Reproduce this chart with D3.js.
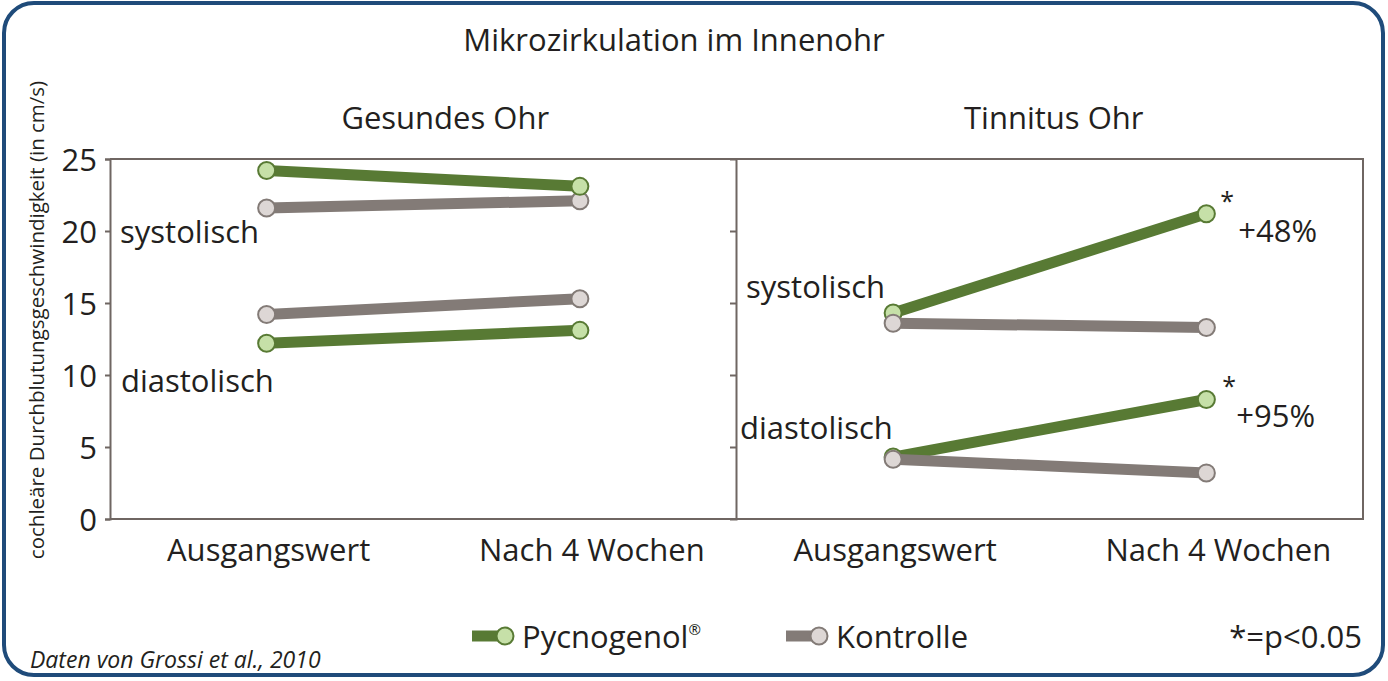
<!DOCTYPE html>
<html>
<head>
<meta charset="utf-8">
<script src="https://cdn.jsdelivr.net/npm/d3@7"></script>
<style>
  body { margin: 0; background: #fff; }
  svg text { font-family: "Open Sans", "Noto Sans", sans-serif; fill: #231f20; }
</style>
</head>
<body>
<svg id="chart" width="1388" height="681"></svg>
<script>
// values (cm/s)
var timepoints = ["Ausgangswert", "Nach 4 Wochen"];
var panels = ["Gesundes Ohr", "Tinnitus Ohr"];
var yTicks = [0, 5, 10, 15, 20, 25];

// [gesund, tinnitus], each [Ausgangswert, Nach 4 Wochen]
var pycnoSystolisch = [[24.2, 23.1], [14.3, 21.2]];
var pycnoDiastolisch = [[12.2, 13.1], [4.3, 8.3]];
var kontrolleSystolisch = [[21.6, 22.1], [13.6, 13.3]];
var kontrolleDiastolisch = [[14.2, 15.3], [4.15, 3.2]];
var changeLabels = ["+48%", "+95%"];

var green = "#587a34", greenFill = "#c6e0a8";
var grey = "#837b77", greyFill = "#ddd7d5";
var axisColor = "#6f6662";
var fs = "31px";

var svg = d3.select("#chart");

// rounded frame
svg.append("rect")
  .attr("x", 4).attr("y", 3)
  .attr("width", 1379).attr("height", 672)
  .attr("rx", 30).attr("ry", 30)
  .attr("fill", "none")
  .attr("stroke", "#1f4b7a")
  .attr("stroke-width", 4);

var plotL = 110, plotR = 1363, plotT = 159, plotB = 519;
var mid = 736;

var y = d3.scaleLinear().domain([0, 25]).range([plotB, plotT]);
var panelX = d3.scaleBand().domain(panels).range([plotL, plotR]).paddingInner(0);

svg.append("text")
  .attr("x", 674).attr("y", 51)
  .attr("text-anchor", "middle")
  .style("font-size", fs)
  .text("Mikrozirkulation im Innenohr");

// y axis
var yAxis = d3.axisLeft(y).tickValues(yTicks).tickSize(5).tickPadding(8);
var gy = svg.append("g").attr("transform", "translate(" + plotL + ",0)").call(yAxis);
gy.select(".domain").attr("stroke", axisColor).attr("stroke-width", 2);
gy.selectAll(".tick line").attr("stroke", axisColor).attr("stroke-width", 2);
gy.selectAll(".tick text")
  .style("font-size", fs)
  .style("font-family", "'Open Sans', sans-serif")
  .attr("fill", "#231f20")
  .attr("dy", "0.36em");

// divider axis with ticks inside first panel
var midAxis = d3.axisLeft(y).tickValues([5, 10, 15, 20]).tickSize(6).tickFormat("");
var gm = svg.append("g").attr("transform", "translate(" + mid + ",0)").call(midAxis);
gm.select(".domain").attr("stroke", axisColor).attr("stroke-width", 2);
gm.selectAll(".tick line").attr("stroke", axisColor).attr("stroke-width", 2);

// frame lines: top, right, bottom
svg.append("path")
  .attr("d", "M" + plotL + "," + plotT + "H" + plotR + "V" + plotB + "H" + plotL)
  .attr("fill", "none")
  .attr("stroke", axisColor)
  .attr("stroke-width", 2);

svg.append("text")
  .attr("transform", "translate(44,320) rotate(-90)")
  .attr("text-anchor", "middle")
  .style("font-size", "20.5px")
  .text("cochleäre Durchblutungsgeschwindigkeit (in cm/s)");

var series = [
  { name: "Kontrolle", vals: kontrolleSystolisch, color: grey, fill: greyFill },
  { name: "Kontrolle", vals: kontrolleDiastolisch, color: grey, fill: greyFill },
  { name: "Pycnogenol", vals: pycnoSystolisch, color: green, fill: greenFill },
  { name: "Pycnogenol", vals: pycnoDiastolisch, color: green, fill: greenFill }
];

var titleShift = [22, 4];

panels.forEach(function (p, pi) {
  var x = d3.scalePoint().domain(timepoints)
    .range([panelX(p), panelX(p) + panelX.bandwidth()]).padding(0.5);
  var g = svg.append("g");

  g.append("text")
    .attr("x", panelX(p) + panelX.bandwidth() / 2 + titleShift[pi])
    .attr("y", 129)
    .attr("text-anchor", "middle")
    .style("font-size", fs)
    .text(p);

  timepoints.forEach(function (t, ti) {
    g.append("text")
      .attr("x", x(t) + (ti === 0 ? 2 : 12))
      .attr("y", 561)
      .attr("text-anchor", "middle")
      .style("font-size", fs)
      .text(t);
  });

  var line = d3.line().x(function (d, i) { return x(timepoints[i]); }).y(function (d) { return y(d); });

  // grey first in healthy ear, green first in tinnitus ear (as in the original)
  var order = pi === 0 ? [0, 1, 2, 3] : [2, 3, 0, 1];
  order.forEach(function (si) {
    var s = series[si];
    var vals = s.vals[pi];
    g.append("path")
      .attr("d", line(vals))
      .attr("fill", "none")
      .attr("stroke", s.color)
      .attr("stroke-width", 11);
    g.selectAll(null).data(vals).enter().append("circle")
      .attr("cx", function (d, i) { return x(timepoints[i]); })
      .attr("cy", function (d) { return y(d); })
      .attr("r", 8.5)
      .attr("fill", s.fill)
      .attr("stroke", s.color)
      .attr("stroke-width", 2);
  });
});

// category labels in panels
var labels = [
  { t: "systolisch", x: 120, y: 243 },
  { t: "diastolisch", x: 121, y: 392 },
  { t: "systolisch", x: 746, y: 298 },
  { t: "diastolisch", x: 740, y: 439 }
];
svg.selectAll(null).data(labels).enter().append("text")
  .attr("x", function (d) { return d.x; })
  .attr("y", function (d) { return d.y; })
  .style("font-size", fs)
  .text(function (d) { return d.t; });

// significance marks
var xr = d3.scalePoint().domain(timepoints).range([mid, plotR]).padding(0.5);
var sig = [pycnoSystolisch[1][1], pycnoDiastolisch[1][1]];
sig.forEach(function (v, i) {
  svg.append("text")
    .attr("x", xr(timepoints[1]) + 14 + i * 2)
    .attr("y", y(v) - 4)
    .style("font-size", "25px")
    .text("*");
  svg.append("text")
    .attr("x", xr(timepoints[1]) + 32 - i * 2)
    .attr("y", y(v) + 28)
    .style("font-size", fs)
    .text(changeLabels[i]);
});

// legend
var legend = [
  { name: "Pycnogenol", color: green, fill: greenFill, x: 472 },
  { name: "Kontrolle", color: grey, fill: greyFill, x: 786 }
];
var lg = svg.selectAll(".legendItem").data(legend).enter().append("g")
  .attr("class", "legendItem")
  .attr("transform", function (d) { return "translate(" + d.x + ",636)"; });
lg.append("line")
  .attr("x1", 0).attr("x2", 32)
  .attr("stroke", function (d) { return d.color; })
  .attr("stroke-width", 11);
lg.append("circle")
  .attr("cx", 33).attr("r", 8.5)
  .attr("fill", function (d) { return d.fill; })
  .attr("stroke", function (d) { return d.color; })
  .attr("stroke-width", 2);
var lt = lg.append("text")
  .attr("x", 50).attr("y", 12)
  .style("font-size", fs)
  .text(function (d) { return d.name; });
lt.filter(function (d) { return d.name === "Pycnogenol"; })
  .append("tspan")
  .attr("dy", -13)
  .style("font-size", "15px")
  .text("®");

svg.append("text")
  .attr("x", 1362).attr("y", 648)
  .attr("text-anchor", "end")
  .style("font-size", fs)
  .text("*=p<0.05");

svg.append("text")
  .attr("x", 30).attr("y", 668)
  .style("font-size", "23px")
  .style("font-style", "italic")
  .text("Daten von Grossi et al., 2010");
</script>
</body>
</html>
